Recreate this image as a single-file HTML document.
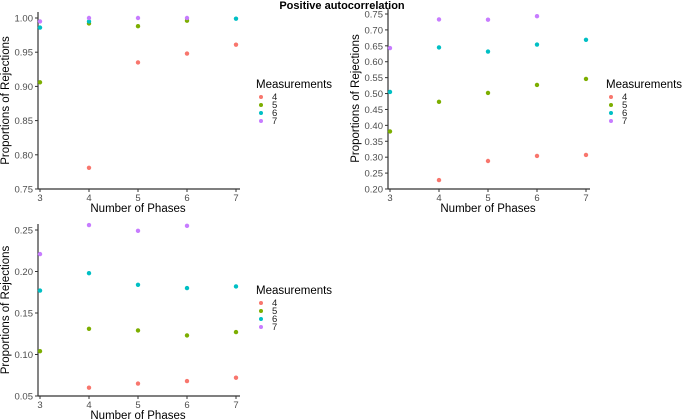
<!DOCTYPE html>
<html><head><meta charset="utf-8"><style>
body{margin:0;background:#fff;}
svg{display:block;font-family:"Liberation Sans",sans-serif;}
</style></head><body>
<svg id="c" width="685" height="419">
<text x="342" y="9" text-anchor="middle" font-weight="bold" font-size="11">Positive autocorrelation</text>
</svg>
<script>
const categories=[3,4,5,6,7];
const seriesNames=["4","5","6","7"];
const colors=["#F8766D","#7CAE00","#00BFC4","#C77CFF"];
const p1Ticks=["0.75","0.80","0.85","0.90","0.95","1.00"];
const p1s4=[null,0.781,0.935,0.948,0.961];
const p1s5=[0.906,0.992,0.988,0.996,null];
const p1s6=[0.986,0.995,null,null,0.999];
const p1s7=[0.995,1.0,1.0,1.0,null];
const p2Ticks=["0.20","0.25","0.30","0.35","0.40","0.45","0.50","0.55","0.60","0.65","0.70","0.75"];
const p2s4=[null,0.228,0.288,0.304,0.307];
const p2s5=[0.381,0.474,0.502,0.527,0.546];
const p2s6=[0.505,0.645,0.632,0.654,0.669];
const p2s7=[0.643,0.733,0.732,0.743,null];
const p3Ticks=["0.05","0.10","0.15","0.20","0.25"];
const p3s4=[null,0.060,0.065,0.068,0.072];
const p3s5=[0.104,0.131,0.129,0.123,0.127];
const p3s6=[0.177,0.198,0.184,0.180,0.182];
const p3s7=[0.221,0.256,0.249,0.255,null];

const svg=document.getElementById('c');
const NS="http://www.w3.org/2000/svg";
function mk(t,a,parent){const e=document.createElementNS(NS,t);for(const k in a)e.setAttribute(k,a[k]);(parent||svg).appendChild(e);return e;}
function panel(id,ax,x0,x1,yTop,yBot,ticks,series,legY){
  const g=mk('g',{});
  
  
  const tv=ticks.map(Number);const lo=tv[0],hi=tv[tv.length-1];
  const Y=v=>yBot-(v-lo)/(hi-lo)*(yBot-yTop);
  const X=c=>x0+(c-categories[0])/(categories[categories.length-1]-categories[0])*(x1-x0);
  const axTop=yTop-6, axR=x1+4;
  const ya=mk('line',{x1:ax,y1:axTop,x2:ax,y2:yBot,stroke:'#333','stroke-width':1.2},g);
  
  const xa=mk('line',{x1:ax,y1:yBot,x2:axR,y2:yBot,stroke:'#333','stroke-width':1.2},g);
  
  ticks.forEach(t=>{const y=Y(+t);
    mk('line',{x1:ax-3,y1:y,x2:ax,y2:y,stroke:'#333'},g);
    const tx=mk('text',{x:ax-5,y:y+3.5,'text-anchor':'end','font-size':9.5,fill:'#4d4d4d'},g);tx.textContent=t;
    });
  categories.forEach(c=>{const x=X(c);
    mk('line',{x1:x,y1:yBot,x2:x,y2:yBot+3,stroke:'#333'},g);
    const tx=mk('text',{x:x,y:yBot+12,'text-anchor':'middle','font-size':9.5,fill:'#4d4d4d'},g);tx.textContent=c;
    });
  const xt=mk('text',{x:(x0+x1)/2,y:yBot+23,'text-anchor':'middle','font-size':11.5},g);xt.textContent='Number of Phases';
  
  const cy=(axTop+yBot)/2, cx=ax-29;
  const yt=mk('text',{x:cx,y:cy,'text-anchor':'middle','font-size':11.5,transform:`rotate(-90 ${cx} ${cy})`},g);yt.textContent='Proportions of Rejections';
  
  series.forEach((s,i)=>s.forEach((v,j)=>{if(v==null)return;
    const p=mk('circle',{cx:X(categories[j]),cy:Y(v),r:2.2,fill:colors[i]},g);
    }));
  const lx=axR+16;
  const lt=mk('text',{x:lx,y:legY,'font-size':11.5},g);lt.textContent='Measurements';
  
  seriesNames.forEach((n,i)=>{const y=legY+12+i*8;
    const d=mk('circle',{cx:lx+5,cy:y-3,r:2,fill:colors[i]},g);
    
    const t=mk('text',{x:lx+16,y:y,'font-size':9.5,fill:'#222'},g);t.textContent=n;
    });
}
panel('panel-top-left',38,40,236,18,189,p1Ticks,[p1s4,p1s5,p1s6,p1s7],88);
panel('panel-top-right',388,390,586,14,189,p2Ticks,[p2s4,p2s5,p2s6,p2s7],88);
panel('panel-bottom-left',38,40,236,230,396,p3Ticks,[p3s4,p3s5,p3s6,p3s7],294);
</script>
</body></html>
